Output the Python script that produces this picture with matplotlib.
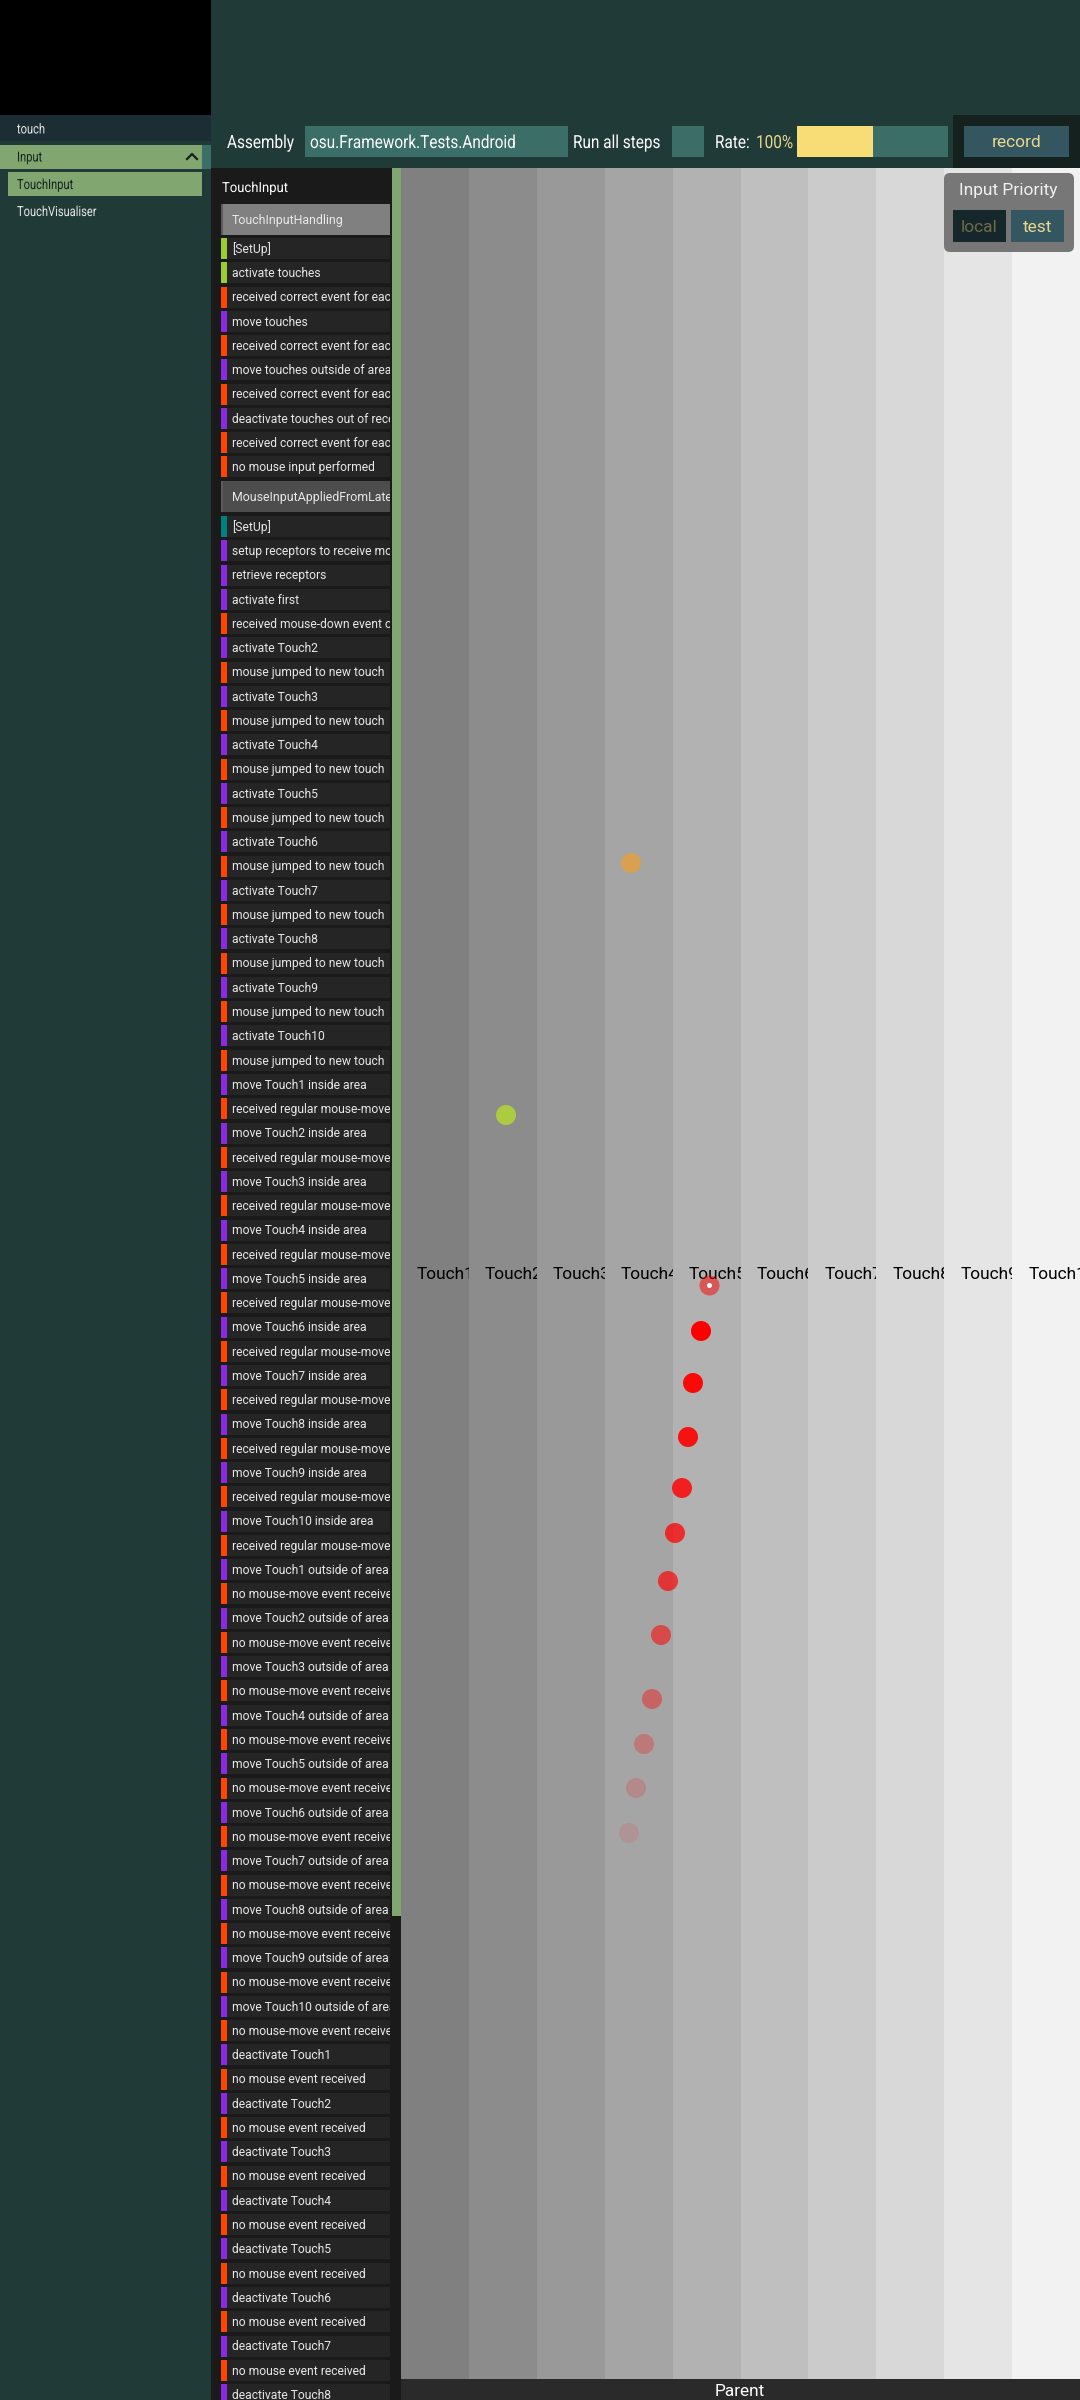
#!/usr/bin/env python3

import matplotlib
matplotlib.use("Agg")
import matplotlib.pyplot as plt
from matplotlib.patches import Rectangle, FancyBboxPatch
from matplotlib.patheffects import AbstractPathEffect
from matplotlib.transforms import Affine2D

plt.rcParams["font.family"] = ["Roboto", "DejaVu Sans"]

BG = "#203a37"
TEAL = "#3a6e66"
GREEN = "#81a66f"
YELLOW = "#f8dc75"
PALE = "#e9d98f"
BUTTON = "#335660"
DARK = "#14211f"

first_steps = ["[SetUp]", "activate touches", "received correct event for each touch", "move touches",
               "received correct event for each touch", "move touches outside of area",
               "received correct event for each touch", "deactivate touches out of receptors",
               "received correct event for each touch", "no mouse input performed"]
first_kinds = "ggopopopoo"

second_steps = ["[SetUp]", "setup receptors to receive mouse", "retrieve receptors", "activate first",
                "received mouse-down event on first",
                "activate Touch2", "mouse jumped to new touch", "activate Touch3", "mouse jumped to new touch",
                "activate Touch4", "mouse jumped to new touch", "activate Touch5", "mouse jumped to new touch",
                "activate Touch6", "mouse jumped to new touch", "activate Touch7", "mouse jumped to new touch",
                "activate Touch8", "mouse jumped to new touch", "activate Touch9", "mouse jumped to new touch",
                "activate Touch10", "mouse jumped to new touch",
                "move Touch1 inside area", "received regular mouse-move", "move Touch2 inside area", "received regular mouse-move",
                "move Touch3 inside area", "received regular mouse-move", "move Touch4 inside area", "received regular mouse-move",
                "move Touch5 inside area", "received regular mouse-move", "move Touch6 inside area", "received regular mouse-move",
                "move Touch7 inside area", "received regular mouse-move", "move Touch8 inside area", "received regular mouse-move",
                "move Touch9 inside area", "received regular mouse-move", "move Touch10 inside area", "received regular mouse-move",
                "move Touch1 outside of area", "no mouse-move event received", "move Touch2 outside of area", "no mouse-move event received",
                "move Touch3 outside of area", "no mouse-move event received", "move Touch4 outside of area", "no mouse-move event received",
                "move Touch5 outside of area", "no mouse-move event received", "move Touch6 outside of area", "no mouse-move event received",
                "move Touch7 outside of area", "no mouse-move event received", "move Touch8 outside of area", "no mouse-move event received",
                "move Touch9 outside of area", "no mouse-move event received", "move Touch10 outside of area", "no mouse-move event received",
                "deactivate Touch1", "no mouse event received", "deactivate Touch2", "no mouse event received",
                "deactivate Touch3", "no mouse event received", "deactivate Touch4", "no mouse event received",
                "deactivate Touch5", "no mouse event received", "deactivate Touch6", "no mouse event received",
                "deactivate Touch7", "no mouse event received", "deactivate Touch8"]
second_kinds = "tpppo" + "popopopopopopopopo" + "popopopopopopopopopo" + "popopopopopopopopopo" + "popopopopopopop"

kind_colors = {"g": "#9acd32", "o": "#ff4500", "p": "#8a2be2", "t": "#008080"}

column_labels = ["Touch1", "Touch2", "Touch3", "Touch4", "Touch5", "Touch6", "Touch7", "Touch8", "Touch9", "Touch10"]
column_shades = ["#808080", "#8c8c8c", "#999999", "#a5a5a5", "#b2b2b2", "#bfbfbf", "#cbcbcb", "#d8d8d8", "#e5e5e5", "#f2f2f2"]

trail_x = [701, 693, 688, 682, 675, 668, 661, 652, 644, 636, 629]
trail_y = [1331, 1383, 1437, 1488, 1533, 1581, 1635, 1699, 1744, 1788, 1833]
trail_alpha = [1.0, 0.95, 0.9, 0.82, 0.75, 0.68, 0.55, 0.4, 0.27, 0.17, 0.1]

other_x = [631, 506]
other_y = [863, 1115]
other_colors = ["#d9a050", "#adcb41"]


class Squeeze(AbstractPathEffect):
    # the UI text is narrower than Roboto at the same height
    def __init__(self, sx):
        super().__init__()
        self.sx = sx

    def draw_path(self, renderer, gc, tpath, affine, rgbFace=None):
        renderer.draw_path(gc, tpath, Affine2D().scale(self.sx, 1) + affine, rgbFace)


fig = plt.figure(figsize=(10.8, 24), dpi=100)
ax = fig.add_axes([0, 0, 1, 1])
ax.set_xlim(0, 1080)
ax.set_ylim(2400, 0)
ax.axis("off")


def box(x0, y0, x1, y1, color, **kw):
    r = Rectangle((x0, y0), x1 - x0, y1 - y0, facecolor=color, edgecolor="none", **kw)
    ax.add_patch(r)
    return r


def label(x, y, s, size, color="white", ha="left", squeeze=None, clip=None):
    t = ax.text(x, y, s, fontsize=size, color=color, ha=ha, va="center_baseline")
    if squeeze:
        t.set_path_effects([Squeeze(squeeze)])
    if clip is not None:
        t.set_clip_path(clip)
        t.set_clip_on(True)
    return t


# background panels
box(0, 0, 1080, 2400, BG)
box(0, 0, 211, 115, "black")

# left test list
box(0, 115, 211, 141, "#1c2e33")
label(17, 128, "touch", 10, "#e8e8e8", squeeze=0.8)
box(0, 145, 202, 169, GREEN)
box(202, 145, 211, 169, TEAL)
label(17, 156, "Input", 10, "#14211f", squeeze=0.8)
ax.plot([187, 192, 197], [159, 154, 159], color="#14211f", lw=1.6)
box(8, 172, 202, 196, GREEN)
label(17, 183.5, "TouchInput", 10, "#14211f", squeeze=0.8)
label(17, 210.5, "TouchVisualiser", 10, "#e8e8e8", squeeze=0.8)

# top toolbar
label(227, 141, "Assembly", 13, squeeze=0.85)
box(305, 126, 568, 157, TEAL)
label(310, 141, "osu.Framework.Tests.Android", 13, squeeze=0.85)
label(573, 141, "Run all steps", 13, squeeze=0.85)
box(672, 126, 704, 157, TEAL)
label(715, 141, "Rate:", 13, squeeze=0.85)
label(756, 141, "100%", 13, PALE, squeeze=0.85)
box(797, 126, 873, 157, YELLOW)
box(873, 126, 948, 157, TEAL)
box(953, 115, 1080, 168, DARK)
box(964, 126, 1069, 157, BUTTON)
label(1016.5, 141, "record", 12.5, PALE, ha="center")

# steps panel
box(211, 168, 401, 2400, "#1a1a1a")
box(392, 168, 401, 1916, GREEN)
label(222, 186.5, "TouchInput", 10, squeeze=0.94)


def draw_group(header, header_color, header_y, first_y, steps, kinds):
    head = box(221, header_y, 390, header_y + 31, header_color)
    box(221, header_y, 223, header_y + 31, "#5c5c5c")
    label(232, header_y + 15, header, 8.9, "#e8e8e8", clip=head)
    for i, (step, kind) in enumerate(zip(steps, kinds)):
        yc = first_y + i * 24.26
        row = box(221, yc - 10.5, 390, yc + 10.5, "#252525")
        box(221, yc - 10.5, 227, yc + 10.5, kind_colors[kind])
        label(232, yc - 0.7, step, 8.7, "#e8e8e8", clip=row)


draw_group("TouchInputHandling", "#808080", 204, 248.5, first_steps, first_kinds)
draw_group("MouseInputAppliedFromLatestTouch", "#4d4d4d", 481, 526.5, second_steps, second_kinds)

# touch columns
for i, (name, shade) in enumerate(zip(column_labels, column_shades)):
    x0 = 401 + i * 67.9
    col = box(x0, 168, x0 + 67.9, 2379, shade)
    label(x0 + 16, 1273, name, 12.4, "black", clip=col)

# parent bar
box(401, 2379, 1080, 2400, "#2a2a2a")
label(740, 2390, "Parent", 12.4, ha="center")

# input priority overlay
ax.add_patch(FancyBboxPatch((944, 173), 130, 79, boxstyle="round,pad=0,rounding_size=6",
                            facecolor="#777777", edgecolor="none"))
label(1008.5, 189, "Input Priority", 12.5, "#f0f0f0", ha="center")
box(953, 210, 1006, 242, "#15272a")
label(979.5, 226, "local", 12.5, "#6e6b45", ha="center")
box(1011, 210, 1064, 242, BUTTON)
label(1037.5, 226, "test", 12.5, PALE, ha="center")

# touch markers
size = (20 * 0.72) ** 2
ax.scatter(trail_x, trail_y, s=size, c="#ff0000", alpha=trail_alpha, linewidths=0, zorder=5)
ax.scatter(other_x, other_y, s=size, c=other_colors, linewidths=0, zorder=5)
ax.scatter([709], [1285], s=size, c="#ff0000", alpha=0.5, linewidths=0, zorder=5)
ax.scatter([709], [1285], s=(5 * 0.72) ** 2, c="white", linewidths=0, zorder=6)

fig.savefig("out.png", dpi=100)
